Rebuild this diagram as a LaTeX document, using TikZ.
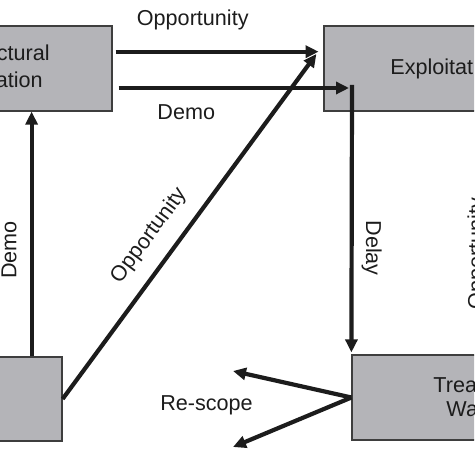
\documentclass[tikz,border=0pt]{standalone}
\usepackage{fontspec}
\setmainfont{Liberation Sans}
\usetikzlibrary{arrows.meta}
\definecolor{boxgrey}{RGB}{180,180,184}
\definecolor{ink}{RGB}{28,28,28}

\begin{document}
\begin{tikzpicture}[x=0.5pt,y=-0.5pt]
    \tikzstyle{every node}=[font=\fontsize{10.8}{13}\selectfont, text=ink, inner sep=0pt]
    \tikzstyle{block}=[draw=ink!85, line width=0.6pt, fill=boxgrey, minimum height=42.5pt]
    \tikzstyle{flow}=[draw=ink, line width=2.1pt, -{Triangle[length=6.5pt,width=6pt]}]
    \useasboundingbox (0,0) rectangle (474,474);
    \clip (0,0) rectangle (474,474);

    \node[block, minimum width=111pt] (struct) at (1,68.5) {};
    \node[block, minimum width=108pt] (exploit) at (432,68.5) {};
    \node[block, minimum width=106pt, minimum height=42pt] (source) at (-44,399) {};
    \node[block, minimum width=104pt] (treasure) at (456,397.5) {};

    \node[anchor=base east] (structa) at (50,61) {ctural};
    \node[anchor=base east] (structb) at (43,88) {ation};
    \node[anchor=base west] (exploittext) at (390,75) {Exploitat};
    \node[anchor=base west] (treasurea) at (433,392) {Trea};
    \node[anchor=base west] (treasureb) at (446,416) {Wa};
    \node[rotate=90, anchor=base west] (oppright) at (483,310) {Opportunity};

    \coordinate (turn) at (352,88);
    \coordinate (rsup) at (233,371);
    \coordinate (rsdown) at (233,447);

    \draw[flow] ([xshift=1.5pt,yshift=8.4pt]struct.east) -- node[pos=0.38, anchor=south,
    inner sep=10pt] (opptop) {Opportunity} ([xshift=-2.4pt,yshift=8.4pt]exploit.west);

    \draw[flow, shorten >=1.5pt] ([xshift=3pt,yshift=-9.75pt]struct.east) -- node[pos=0.29,
    anchor=north, inner sep=7.3pt] (demotop) {Demo} (turn);

    \draw[flow] ([yshift=1.5pt]turn) -- node[pos=0.61, rotate=-90, anchor=south,
    inner sep=4pt] (delay) {Delay} ([yshift=1pt]treasure.north west);

    \draw[flow] ([xshift=-15.5pt]source.north east) -- node[pos=0.435, rotate=90,
    anchor=south, inner sep=6.5pt] (demoleft) {Demo} ([xshift=-40.5pt]struct.south east);

    \draw[flow] (source.east) -- node[pos=0.427, sloped, anchor=south, inner sep=7.3pt]
    (oppdiag) {Opportunity} ([xshift=-3.5pt,yshift=7.25pt]exploit.west);

    \draw[flow] (treasure.west) -- (rsup);
    \draw[flow] (treasure.west) -- (rsdown);
    \node[anchor=base] (rescope) at (206.5,410) {Re-scope};

\end{tikzpicture}
\end{document}
